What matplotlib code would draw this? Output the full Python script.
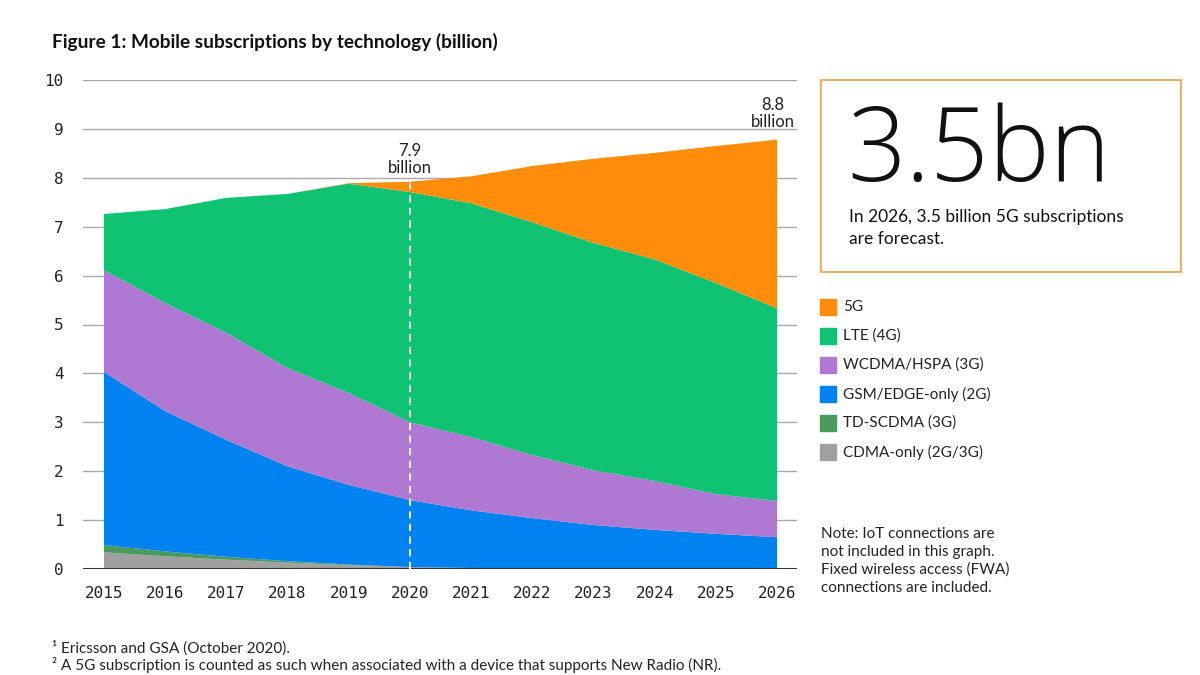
import matplotlib.pyplot as plt
from matplotlib.patches import Rectangle
import numpy as np

years = [2015, 2016, 2017, 2018, 2019, 2020, 2021, 2022, 2023, 2024, 2025, 2026]
cdma = [0.34, 0.26, 0.19, 0.13, 0.08, 0.04, 0.02, 0.01, 0.0, 0.0, 0.0, 0.0]
td_scdma = [0.15, 0.10, 0.06, 0.03, 0.01, 0.0, 0.0, 0.0, 0.0, 0.0, 0.0, 0.0]
gsm = [3.54, 2.87, 2.39, 1.94, 1.63, 1.37, 1.18, 1.03, 0.90, 0.80, 0.72, 0.65]
wcdma = [2.08, 2.21, 2.19, 2.01, 1.88, 1.59, 1.50, 1.29, 1.12, 1.00, 0.81, 0.74]
lte = [1.15, 1.92, 2.76, 3.56, 4.28, 4.71, 4.78, 4.76, 4.65, 4.53, 4.32, 3.94]
g5 = [0.0, 0.0, 0.0, 0.0, 0.01, 0.21, 0.55, 1.15, 1.72, 2.18, 2.80, 3.45]

labels = ["CDMA-only (2G/3G)", "TD-SCDMA (3G)", "GSM/EDGE-only (2G)",
          "WCDMA/HSPA (3G)", "LTE (4G)", "5G"]
colors = ["#a0a0a0", "#4a9a5e", "#0082f0", "#af78d2", "#0fc373", "#ff8c0a"]
yticks = [0, 1, 2, 3, 4, 5, 6, 7, 8, 9, 10]

plt.rcParams['font.family'] = ['Lato', 'DejaVu Sans']
fig = plt.figure(figsize=(12, 6.75), dpi=100)
ax = fig.add_axes([83 / 1200, 1 - 569 / 675, (797 - 83) / 1200, (569 - 80) / 675])

series = [cdma, td_scdma, gsm, wcdma, lte, g5]
ax.stackplot(years, *series, colors=colors, linewidth=0, zorder=2)

for t in yticks[1:]:
    ax.axhline(t, color="#aaaaaa", lw=1, zorder=1)
ax.axhline(0, color="#333333", lw=1.5, zorder=3)

ax.set_xlim(2015 - 21 / 61.2, 2026 + 20 / 61.2)
ax.set_ylim(0, 10)
ax.set_xticks(years)
ax.set_yticks(yticks)
for s in ax.spines.values():
    s.set_visible(False)
ax.tick_params(length=0, labelsize=11.5, colors="#222222")
ax.tick_params(axis="x", pad=12)
ax.tick_params(axis="y", pad=14)
for lab in ax.get_xticklabels() + ax.get_yticklabels():
    lab.set_family("DejaVu Sans Mono")

total = np.sum(series, axis=0)
ax.plot([2020, 2020], [0, total[5]], color="white", lw=1.3, ls=(0, (4, 3)), zorder=4)
ax.text(2020, total[5] + 0.12, "7.9\nbillion", ha="center", va="bottom",
        fontsize=12, color="#222222", linespacing=1.05)
ax.text(2026 - 0.07, total[-1] + 0.2, "8.8\nbillion", ha="center", va="bottom",
        fontsize=12, color="#222222", linespacing=1.05)

fig.text(52 / 1200, 1 - 42 / 675, "Figure 1: Mobile subscriptions by technology (billion)",
         fontsize=13.7, fontweight="bold", va="center", color="#111111")

# call-out box
fig.patches.append(Rectangle((821 / 1200, 1 - 272 / 675), 360 / 1200, 192 / 675,
                             transform=fig.transFigure, fill=False,
                             edgecolor="#f5a550", lw=1.3))
fig.text(847 / 1200, 1 - 154 / 675, "3.5bn", fontsize=74, va="center",
         color="#111111", family=["Open Sans", "DejaVu Sans"], fontweight="light")
fig.text(849 / 1200, 1 - 228 / 675, "In 2026, 3.5 billion 5G subscriptions\nare forecast.",
         fontsize=12.5, va="center", color="#111111", linespacing=1.45)

# legend
for i, (lab, col) in enumerate(zip(labels[::-1], colors[::-1])):
    yc = 307 + i * 29
    fig.patches.append(Rectangle((820 / 1200, 1 - (yc + 8) / 675), 16 / 1200, 16 / 675,
                                 transform=fig.transFigure, color=col))
    fig.text(843 / 1200, 1 - yc / 675, lab, fontsize=11, va="center", color="#222222")

fig.text(821 / 1200, 1 - 561 / 675,
         "Note: IoT connections are\nnot included in this graph.\n"
         "Fixed wireless access (FWA)\nconnections are included.",
         fontsize=11, va="center", color="#222222", linespacing=1.35)

fig.text(52 / 1200, 1 - 648 / 675, "\u00b9 Ericsson and GSA (October 2020).",
         fontsize=11, va="center", color="#222222")
fig.text(52 / 1200, 1 - 665 / 675,
         "\u00b2 A 5G subscription is counted as such when associated with a device that supports New Radio (NR).",
         fontsize=11, va="center", color="#222222")

fig.savefig("out.png", dpi=100)
